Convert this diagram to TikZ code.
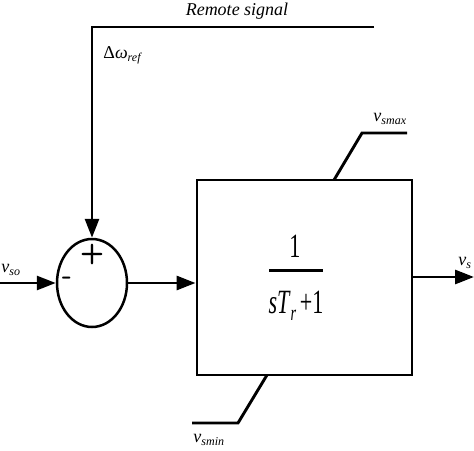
\documentclass[tikz,border=0pt]{standalone}
\usepackage{fontspec}
\setmainfont{Liberation Serif}
\usetikzlibrary{arrows.meta,shapes.geometric}
\newcommand\lab[2]{\textit{#1}\raisebox{-3pt}{\fontsize{12}{12}\selectfont\textit{#2}}}
\begin{document}
\begin{tikzpicture}[x=1pt,y=-1pt,line width=2.9pt,
  arr/.style={-{Triangle[length=19pt,width=14pt]}},
  lbl/.style={font=\fontsize{18}{20}\selectfont,inner sep=0pt,anchor=base west},
  sgn/.style={font=\fontsize{28}{28}\selectfont\sffamily\bfseries,inner sep=0pt}]
\useasboundingbox (0,0) rectangle (474,450);
% blocks
\node[draw,ellipse,minimum width=70pt,minimum height=88pt,inner sep=0pt,line width=2.5pt] (sum) at (92,283) {};
\node[draw,rectangle,minimum width=215pt,minimum height=195pt,inner sep=0pt] (blk) at (304.5,277.5) {};
% signs
\node[sgn] (plus) at (92,254) {+};
\node[sgn] (minus) at (67,281) {-};
% transfer function
\node[inner sep=0pt,anchor=base] (num) at (295,257) {\fontsize{34}{34}\selectfont\scalebox{0.65}[1]{1}};
\coordinate (fl1) at (269,270.7);
\coordinate (fl2) at (323,270.7);
\draw[line width=2.6pt] (fl1) -- (fl2);
\node[inner sep=0pt,anchor=base] (den) at (296,313) {\fontsize{34}{34}\selectfont\scalebox{0.65}[1]{\textit{sT}\raisebox{-7pt}{\fontsize{22}{22}\selectfont\textit{r}}\,+1}};
% remote signal
\node[font=\fontsize{18}{20}\selectfont\itshape,inner sep=0pt] (rstext) at (237,11) {Remote signal};
\coordinate (rs) at (374,27);
\draw[arr] (rs) -| (sum.north);
\node[lbl] (dw) at (102,58) {Δ\textit{ω}\raisebox{-3pt}{\fontsize{12}{12}\selectfont\textit{ref}}};
% input
\coordinate (in) at (0,283);
\draw[arr] (in) -- (sum.west);
\node[lbl] (vso) at (0,272) {\lab{v}{so}};
% sum to block
\draw[arr] (sum.east) -- (sum.east -| blk.west);
% output
\coordinate (out) at (474,277);
\draw[arr] (blk.east |- out) -- (out);
\node[lbl] (vs) at (457,265) {\lab{v}{s}};
% limits
\coordinate (mx0) at (334,180);
\coordinate (mx1) at (362,133);
\coordinate (mx2) at (407,133);
\draw (mx0) -- (mx1) -- (mx2);
\node[lbl] (vmax) at (372,121) {\lab{v}{smax}};
\coordinate (mn0) at (267,375);
\coordinate (mn1) at (238,423);
\coordinate (mn2) at (192,423);
\draw (mn0) -- (mn1) -- (mn2);
\node[lbl] (vmin) at (192,442) {\lab{v}{smin}};
\end{tikzpicture}
\end{document}
